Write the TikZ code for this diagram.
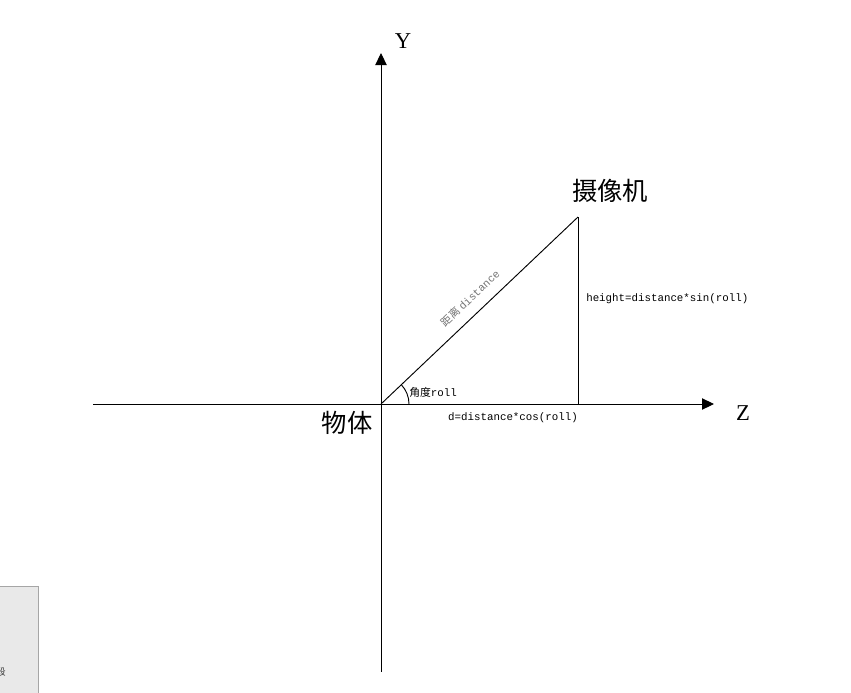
\documentclass[tikz,border=0pt]{standalone}
\usepackage{fontspec}
\setmainfont{Liberation Serif}
\setmonofont{Liberation Mono}
\newfontfamily\cjk{Noto Sans CJK SC}
\usetikzlibrary{arrows.meta,calc}
\begin{document}
\begin{tikzpicture}[x=0.75pt,y=-0.75pt,
  axis/.style={line width=0.7pt,-{Triangle[length=9pt,width=8.5pt]}},
  edge/.style={line width=0.7pt},
  cjklabel/.style={font=\cjk\fontsize{19}{21}\selectfont,inner sep=0pt},
  axislabel/.style={font=\fontsize{17}{19}\selectfont,inner sep=0pt},
  formula/.style={font=\ttfamily\fontsize{8.1}{10}\selectfont,inner sep=0pt}]
\useasboundingbox (0,0) rectangle (851,693);
% gray panel
\node[draw=gray!70,fill=gray!17,line width=0.8pt,minimum width=41pt,minimum height=82pt,anchor=north east,inner sep=0pt] (panel) at (39,586) {};
\begin{scope}
\clip (0,586) rectangle (39,693);
\node[font=\cjk\fontsize{7}{8}\selectfont,inner sep=0pt,text=black!80] (paneltext) at (1,672) {段};
\end{scope}
% coordinates
\coordinate (O) at (381,404);
\coordinate (ytop) at (381,53);
\coordinate (ybot) at (381,672);
\coordinate (zleft) at (93,404);
\coordinate (zright) at (714,404);
\coordinate (C) at (578,217);
\coordinate (F) at (578,404);
% axes
\draw[edge] (O) -- (ybot);
\draw[axis] (O) -- (ytop);
\draw[edge] (zleft) -- (O);
\draw[axis] (O) -- (zright);
% triangle
\draw[edge] (O) -- (C);
\draw[edge] (C) -- (F);
% angle arc
\draw[edge] ($(O)+(28,0)$) arc[start angle=0,end angle=-43.5,radius=28];
% labels
\node[axislabel] (ylab) at (403,41) {Y};
\node[axislabel] (zlab) at (743,413) {Z};
\node[cjklabel] (cam) at (610,191) {摄像机};
\node[cjklabel] (obj) at (347,423) {物体};
\node[font=\fontsize{8.1}{10}\selectfont,inner sep=0pt,text=black!55,rotate=43.5] (dist) at (470,298) {{\cjk 距离} \ttfamily distance};
\node[font=\fontsize{8.1}{10}\selectfont,inner sep=0pt,anchor=west] (ang) at (409,392) {{\cjk 角度}\ttfamily roll};
\node[formula] (dlab) at (513,418) {d=distance*cos(roll)};
\node[formula,anchor=west] (hlab) at (586,299) {height=distance*sin(roll)};
\end{tikzpicture}
\end{document}
